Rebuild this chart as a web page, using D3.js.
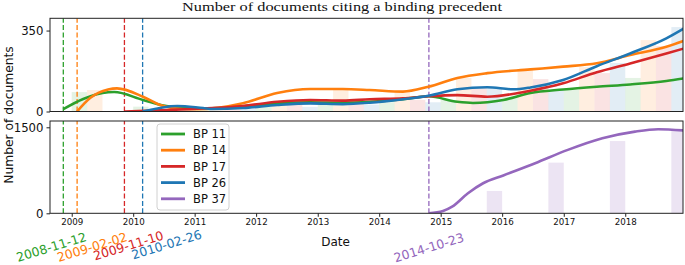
<!DOCTYPE html>
<html>
<head>
<meta charset="utf-8">
<script src="https://cdn.jsdelivr.net/npm/d3@7"></script>
<style>
  body { margin: 0; background: #fff; }
  svg { display: block; font-family: "DejaVu Sans", sans-serif; }
</style>
</head>
<body>
<div id="chart"></div>
<script>
// Series names and colours (legend order)
const seriesNames = ["BP 11", "BP 14", "BP 17", "BP 26", "BP 37"];
const seriesColors = ["#2ca02c", "#ff7f0e", "#d62728", "#1f77b4", "#9467bd"];
// Date each binding precedent was issued
const issueDates = ["2008-11-12", "2009-02-02", "2009-11-10", "2010-02-26", "2014-10-23"];

// Smoothed counts: [date, documents]
const bp11Line = [["2008-11-12", 10], ["2009-03-10", 54], ["2009-08-05", 83], ["2009-09-10", 84],
  ["2010-02-28", 50], ["2010-08-07", 21], ["2011-02-20", 13], ["2011-10-15", 21], ["2012-05-05", 35],
  ["2012-11-17", 40], ["2013-05-30", 38], ["2013-11-06", 42], ["2014-05-22", 53], ["2014-10-20", 66],
  ["2015-04-10", 42], ["2015-07-12", 37], ["2016-01-08", 50], ["2016-06-17", 80], ["2016-12-28", 95],
  ["2017-07-16", 107], ["2018-01-30", 117], ["2018-09-02", 132], ["2018-12-28", 145]];
const bp14Line = [["2009-02-02", 0], ["2009-04-20", 58], ["2009-08-05", 95], ["2009-09-27", 100],
  ["2010-02-28", 64], ["2010-06-10", 28], ["2010-10-22", 11], ["2011-01-15", 10], ["2011-10-15", 36],
  ["2012-05-05", 80], ["2012-11-17", 97], ["2013-05-30", 97], ["2013-11-06", 93], ["2014-05-22", 86],
  ["2014-10-20", 107], ["2015-04-10", 145], ["2015-10-05", 166], ["2016-06-17", 182], ["2016-12-28", 194],
  ["2017-07-16", 209], ["2018-01-30", 244], ["2018-09-02", 280], ["2018-12-28", 309]];
const bp17Line = [["2009-11-10", 0], ["2010-06-10", 5], ["2011-01-15", 12], ["2011-10-15", 24],
  ["2012-05-05", 42], ["2012-11-17", 50], ["2013-05-30", 47], ["2013-11-06", 53], ["2014-05-22", 57],
  ["2014-10-20", 66], ["2015-04-10", 71], ["2015-10-05", 64], ["2016-06-17", 90], ["2016-12-28", 122],
  ["2017-07-16", 170], ["2018-01-30", 208], ["2018-09-02", 251], ["2018-12-28", 275]];
const bp26Line = [["2010-02-26", 0], ["2010-09-20", 24], ["2011-02-20", 15], ["2011-04-20", 11],
  ["2011-10-15", 15], ["2012-05-05", 28], ["2012-11-17", 35], ["2013-05-30", 32], ["2013-11-06", 38],
  ["2014-05-22", 53], ["2014-10-20", 68], ["2015-04-10", 96], ["2015-10-05", 105], ["2016-03-07", 96],
  ["2016-06-17", 104], ["2016-12-28", 136], ["2017-07-16", 196], ["2018-01-30", 251], ["2018-09-02", 316],
  ["2018-12-28", 364]];
const bp37Line = [["2014-10-23", 0], ["2015-01-15", 40], ["2015-03-10", 116], ["2015-06-12", 350],
  ["2015-09-10", 524], ["2016-01-08", 660], ["2016-07-15", 873], ["2017-01-25", 1106],
  ["2017-08-18", 1309], ["2018-02-28", 1425], ["2018-07-15", 1466], ["2018-12-28", 1442]];

// Yearly counts (faint bars); one entry per year in barYears
const barYears = [2009, 2010, 2011, 2012, 2013, 2014, 2015, 2016, 2017, 2018];
const bp11Bars = [84, 21, 12, 25, 35, 40, 50, 63, 93, 145];
const bp14Bars = [93, 10, 12, 37, 93, 85, 145, 179, 192, 309];
const bp17Bars = [0, 5, 15, 28, 45, 50, 100, 140, 166, 283];
const bp26Bars = [0, 10, 15, 20, 30, 40, 100, 93, 210, 365];
const bp37Years = [2015, 2016, 2017, 2018];
const bp37Bars = [390, 884, 1260, 1450];

const topTicks = [0, 350];
const bottomTicks = [0, 1500];
const xTickYears = [2009, 2010, 2011, 2012, 2013, 2014, 2015, 2016, 2017, 2018];

// ---- layout ----
const W = 685, H = 265;
const left = 50, right = 683;
const topPanel = { y0: 18.3, y1: 111.5, max: 403 };
const botPanel = { y0: 121, y1: 213.3, max: 1610 };
const labelShift = [-12, 15, 4, 24, 0];
const labelY = [247, 247, 245.5, 244.5, 247.5];

const parse = d3.timeParse("%Y-%m-%d");
const svg = d3.select("#chart").append("svg").attr("width", W).attr("height", H);

const x = d3.scaleTime()
  .domain([parse("2008-08-25"), parse("2018-12-10")])
  .range([left, right]);
const yTop = d3.scaleLinear().domain([0, topPanel.max]).range([topPanel.y1, topPanel.y0]);
const yBot = d3.scaleLinear().domain([0, botPanel.max]).range([botPanel.y1, botPanel.y0]);

const defs = svg.append("defs");
[["clipTop", topPanel], ["clipBot", botPanel]].forEach(([id, p]) => {
  defs.append("clipPath").attr("id", id).append("rect")
    .attr("x", left).attr("y", p.y0).attr("width", right - left).attr("height", p.y1 - p.y0);
});

// slot k of year yr: quarter-year wide bar starting at yr + k/4
function slotX(yr, k) {
  const a = x(new Date(yr, 0, 1)), b = x(new Date(yr + 1, 0, 1));
  return a + k * (b - a) / 4;
}
function slotW(yr) {
  return (x(new Date(yr + 1, 0, 1)) - x(new Date(yr, 0, 1))) / 4;
}

const line = (y) => d3.line()
  .x(d => x(parse(d[0])))
  .y(d => y(d[1]))
  .curve(d3.curveMonotoneX);

function vlines(g, y) {
  g.selectAll(null).data(issueDates).enter().append("line")
    .attr("x1", d => x(parse(d))).attr("x2", d => x(parse(d)))
    .attr("y1", y.range()[0]).attr("y2", y.range()[1])
    .attr("stroke", (d, i) => seriesColors[i])
    .attr("stroke-width", 1.3)
    .attr("stroke-dasharray", "5,2.4");
}

// ---- top panel ----
const gTop = svg.append("g").attr("clip-path", "url(#clipTop)");
const topBars = [bp11Bars, bp14Bars, bp17Bars, bp26Bars];
topBars.forEach((vals, k) => {
  gTop.selectAll(null).data(barYears.map((yr, i) => ({ yr, v: vals[i] })))
    .enter().append("rect")
    .attr("x", d => slotX(d.yr, k))
    .attr("width", d => slotW(d.yr))
    .attr("y", d => yTop(d.v))
    .attr("height", d => yTop(0) - yTop(d.v))
    .attr("fill", seriesColors[k])
    .attr("fill-opacity", 0.13);
});
vlines(gTop, yTop);

const topLines = [bp11Line, bp14Line, bp17Line, bp26Line];
topLines.forEach((data, k) => {
  gTop.append("path").datum(data)
    .attr("fill", "none")
    .attr("stroke", seriesColors[k])
    .attr("stroke-width", 2.6)
    .attr("d", line(yTop));
});

// ---- bottom panel ----
const gBot = svg.append("g").attr("clip-path", "url(#clipBot)");
gBot.selectAll(null).data(bp37Years.map((yr, i) => ({ yr, v: bp37Bars[i] })))
  .enter().append("rect")
  .attr("x", d => slotX(d.yr, 3))
  .attr("width", d => slotW(d.yr))
  .attr("y", d => yBot(d.v))
  .attr("height", d => yBot(0) - yBot(d.v))
  .attr("fill", seriesColors[4])
  .attr("fill-opacity", 0.18);
vlines(gBot, yBot);
gBot.append("path").datum(bp37Line)
  .attr("fill", "none")
  .attr("stroke", seriesColors[4])
  .attr("stroke-width", 2.6)
  .attr("d", line(yBot));

// ---- frames and axes ----
[topPanel, botPanel].forEach(p => {
  svg.append("rect")
    .attr("x", left).attr("y", p.y0)
    .attr("width", right - left).attr("height", p.y1 - p.y0)
    .attr("fill", "none").attr("stroke", "#222").attr("stroke-width", 1);
});

function styleAxis(g, size) {
  g.select(".domain").remove();
  g.selectAll(".tick line").attr("stroke", "#222");
  g.selectAll(".tick text").attr("fill", "#111")
    .style("font-family", "DejaVu Sans").style("font-size", size + "px");
}

svg.append("g").attr("transform", `translate(${left},0)`)
  .call(d3.axisLeft(yTop).tickValues(topTicks).tickFormat(d3.format("d")).tickSize(3.5).tickPadding(3))
  .call(g => styleAxis(g, 11.7));
svg.append("g").attr("transform", `translate(${left},0)`)
  .call(d3.axisLeft(yBot).tickValues(bottomTicks).tickFormat(d3.format("d")).tickSize(3.5).tickPadding(3))
  .call(g => styleAxis(g, 11.7));
svg.append("g").attr("transform", `translate(0,${botPanel.y1})`)
  .call(d3.axisBottom(x).tickValues(xTickYears.map(yr => new Date(yr, 0, 1)))
    .tickFormat(d3.timeFormat("%Y")).tickSize(3.5).tickPadding(2.5))
  .call(g => styleAxis(g, 8.7));

// ---- legend ----
const legend = svg.append("g");
legend.append("rect")
  .attr("x", 157).attr("y", 124).attr("width", 72).attr("height", 86)
  .attr("rx", 3).attr("fill", "#fff").attr("fill-opacity", 0.8)
  .attr("stroke", "#d0d0d0").attr("stroke-width", 1);
const rows = legend.selectAll(null).data(seriesNames).enter().append("g")
  .attr("transform", (d, i) => `translate(161,${134 + i * 16.2})`);
rows.append("line").attr("x1", 0).attr("x2", 24)
  .attr("stroke", (d, i) => seriesColors[i]).attr("stroke-width", 2.8);
rows.append("text").attr("x", 32).attr("dy", "0.36em")
  .style("font-size", "11.5px").attr("fill", "#111").text(d => d);

// ---- texts ----
svg.append("text")
  .attr("x", 342).attr("y", 10.5)
  .attr("text-anchor", "middle")
  .attr("textLength", 320).attr("lengthAdjust", "spacingAndGlyphs")
  .style("font-family", "'Liberation Serif', serif").style("font-size", "12.5px")
  .attr("fill", "#111")
  .text("Number of documents citing a binding precedent");

svg.append("text")
  .attr("transform", "translate(12.5,115) rotate(-90)")
  .attr("text-anchor", "middle")
  .style("font-size", "12.3px").attr("fill", "#111")
  .text("Number of documents");

svg.append("text")
  .attr("x", 335.5).attr("y", 246)
  .attr("text-anchor", "middle")
  .style("font-size", "12px").attr("fill", "#111")
  .text("Date");

svg.selectAll(null).data(issueDates).enter().append("text")
  .attr("transform", (d, i) => `translate(${x(parse(d)) + labelShift[i]},${labelY[i]}) rotate(-17)`)
  .attr("text-anchor", "middle")
  .attr("dominant-baseline", "central")
  .style("font-size", "12.5px")
  .attr("fill", (d, i) => seriesColors[i])
  .text(d => d);
</script>
</body>
</html>
